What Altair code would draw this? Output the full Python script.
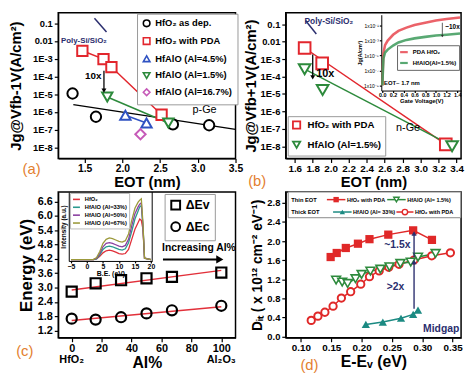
import altair as alt
import pandas as pd

FONT = "Liberation Sans"
ORANGE = "#e3802f"
NAVY = "#2b2e6e"
RED = "#e2262d"
GREEN = "#2d8a3c"
BLUE = "#2f52c2"
PURPLE = "#c65ab8"
TEAL = "#1b8a82"

W1, W2, H = 180, 178, 148

LOG_TICKS = [1e-1, 1e-2, 1e-3, 1e-4, 1e-5, 1e-6, 1e-7, 1e-8]
LOG_EXPR = ("datum.value > 0.05 ? '0.1' : (datum.value > 0.005 ? '0.01' : "
            "'1E' + round(log(datum.value) / LN10))")

# ---------------- panel (a) data ----------------
a_series = ["HfO₂ as dep.", "HfO₂ with PDA", "HfAlO (Al=4.5%)", "HfAlO (Al=1.5%)", "HfAlO (Al=16.7%)"]
a_colors = ["black", RED, BLUE, GREEN, PURPLE]
a_shapes = ["circle", "square", "triangle-up", "triangle-down", "diamond"]
a_asdep_eot = [1.34, 1.65, 2.67, 3.15]
a_asdep_jg = [1.1e-5, 5.4e-7, 2.0e-7, 1.8e-7]
a_pda_eot = [1.47, 1.75, 1.855, 2.52]
a_pda_jg = [2.8e-3, 9.5e-4, 3.4e-4, 7.0e-7]
a_al45_eot = [2.04, 2.32]
a_al45_jg = [6.6e-7, 2.4e-7]
a_al15_eot = [1.80, 2.61]
a_al15_jg = [7.0e-6, 2.4e-7]
a_al167_eot = [2.24]
a_al167_jg = [5.6e-8]
a_fit_eot = [1.35, 3.5]
a_fit_jg = [2.6e-6, 1.05e-7]
a_poly_eot = [1.63, 1.79]
a_poly_jg = [0.19, 0.032]
a_arrow_eot = [1.756]
a_arrow_from = [2.1e-4]
a_arrow_to = [1.6e-5]

# ---------------- panel (b) data ----------------
b_series = ["HfO₂ with PDA", "HfAlO (Al=1.5%)"]
b_pda_eot = [1.71, 1.905, 3.28]
b_pda_jg = [4.3e-3, 5.7e-4, 1.3e-8]
b_al_eot = [1.71, 1.91, 3.35]
b_al_jg = [2.6e-4, 1.7e-5, 1.0e-8]
b_pda_fit_eot = [1.71, 3.28]
b_pda_fit_jg = [4.3e-3, 1.3e-8]
b_al_fit_eot = [1.70, 3.33]
b_al_fit_jg = [2.8e-4, 1.2e-8]
b_poly_eot = [1.72, 1.84]
b_poly_jg = [0.16, 0.027]
b_arrow_eot = [1.80]
b_arrow_from = [1.8e-3]
b_arrow_to = [9.0e-5]
# inset of (b): Jg vs gate voltage
bi_curves = ["PDA HfO₂", "HfAlO(Al=1.5%)"]
bi_v = [0.0, 0.01, 0.02, 0.05, 0.1, 0.2, 0.3, 0.45, 0.6, 0.8, 1.0, 1.2, 1.45]
bi_pda = [1e-9, 3e-7, 2e-5, 2.5e-4, 1e-3, 6e-3, 2e-2, 5.6e-2, 0.126, 0.25, 0.5, 0.8, 1.26]
bi_al = [1e-9, 1e-7, 4e-6, 2.5e-5, 6.3e-5, 2.2e-4, 5.6e-4, 1.26e-3, 2e-3, 3.2e-3, 5e-3, 6.3e-3, 8.9e-3]

# ---------------- panel (c) data ----------------
c_al = [0, 16, 33, 50, 67, 100]
c_dev = [2.83, 3.18, 3.31, 3.39, 3.45, 3.63]
c_dec = [1.70, 1.66, 1.76, 1.92, 2.05, 2.24]
c_fit_x = [0, 100]
c_fit_dev = [2.90, 3.72]
c_fit_dec = [1.62, 2.20]
c_bands = ["ΔEv", "ΔEc"]
# inset of (c): XPS loss spectra
ci_curves = ["HfO₂", "HfAlO (Al=33%)", "HfAlO (Al=50%)", "HfAlO (Al=67%)"]
ci_colors = ["#e0303a", "#2a9a8e", "#8a3fa0", "#9c9a3c"]
ci_be = [-5, 0, 2, 3, 4, 5, 6, 7, 8, 9, 10, 11, 12, 13, 14, 15, 16, 16.5, 17, 17.5, 18, 20]
ci_hfo2 = [0, 0, 0, 0.01, 0.05, 0.10, 0.13, 0.14, 0.13, 0.11, 0.09, 0.08, 0.09, 0.15, 0.30, 0.45, 0.55, 0.60, 0.58, 0.45, 0.02, 0]
ci_al33 = [0, 0, 0, 0.01, 0.07, 0.15, 0.19, 0.20, 0.19, 0.17, 0.15, 0.14, 0.16, 0.25, 0.42, 0.60, 0.72, 0.78, 0.80, 0.50, 0.02, 0]
ci_al50 = [0, 0, 0, 0.02, 0.09, 0.19, 0.24, 0.25, 0.24, 0.22, 0.20, 0.19, 0.21, 0.30, 0.50, 0.68, 0.78, 0.82, 0.84, 0.50, 0.02, 0]
ci_al67 = [0, 0, 0, 0.03, 0.12, 0.24, 0.30, 0.32, 0.31, 0.29, 0.27, 0.26, 0.28, 0.38, 0.58, 0.76, 0.85, 0.88, 0.90, 0.55, 0.02, 0]

# ---------------- panel (d) data ----------------
d_thin_pda_x = [0.149, 0.159, 0.174, 0.194, 0.213, 0.244, 0.285, 0.316]
d_thin_pda_y = [1.665, 1.75, 1.855, 1.945, 2.04, 2.135, 2.225, 2.025]
d_thin_al_x = [0.158, 0.168, 0.177, 0.19, 0.20, 0.2145, 0.231, 0.246, 0.264, 0.281, 0.293, 0.322]
d_thin_al_y = [1.18, 1.14, 1.11, 1.21, 1.30, 1.37, 1.41, 1.46, 1.53, 1.56, 1.665, 1.74]
d_thick_al_x = [0.207, 0.235, 0.265, 0.285, 0.293]
d_thick_al_y = [0.25, 0.30, 0.38, 0.46, 0.55]
d_thick_pda_x = [0.117, 0.128, 0.1395, 0.153, 0.1667, 0.182, 0.1986, 0.213, 0.229, 0.2448, 0.2617, 0.2863, 0.3156, 0.3464]
d_thick_pda_y = [0.335, 0.424, 0.506, 0.633, 0.804, 0.937, 1.095, 1.253, 1.373, 1.449, 1.513, 1.601, 1.69, 1.753]
d_arrow_x = [0.2865, 0.2865]
d_arrow_from = [0.58, 1.66]
d_arrow_to = [1.56, 2.16]
d_note_text = ["~1.5x", ">2x"]
d_note_x = [0.259, 0.256]
d_note_y = [1.91, 1.03]
# legend of (d), in data coordinates
d_leg_box_x = [0.079, 0.3635]
d_leg_box_y = [2.49, 3.03]
d_leg_group_text = ["Thin EOT", "Thick EOT"]
d_leg_group_y = [2.87, 2.61]
d_leg_line_x0 = [0.1428, 0.2422, 0.153, 0.2574]
d_leg_line_x1 = [0.1733, 0.2727, 0.1836, 0.2855]
d_leg_line_y = [2.87, 2.87, 2.61, 2.61]
d_leg_text = ["HfO₂ with PDA", "HfAlO (Al= 1.5%)", "HfAlO (Al= 33%)", "HfO₂ with PDA"]
d_leg_text_x = [0.176, 0.2753, 0.186, 0.288]


# ---------------- helpers ----------------
def xy(xs, ys, **extra):
    d = {"x": list(xs), "y": list(ys)}
    d.update(extra)
    return pd.DataFrame(d)


def series_df(names, xs_list, ys_list, key="series"):
    rows = []
    for n, xs, ys in zip(names, xs_list, ys_list):
        for x, y in zip(xs, ys):
            rows.append({"x": x, "y": y, key: n})
    return pd.DataFrame(rows)


def line(df, X, Y, color, width=1.5):
    return alt.Chart(df).mark_line(color=color, strokeWidth=width).encode(x=X, y=Y)


def label_text(df, X, Y, **kw):
    base = dict(font=FONT, fontWeight="bold", color="black", fontSize=10)
    base.update(kw)
    return alt.Chart(df).mark_text(**base).encode(x=X, y=Y, text="label:N")


def varrow(xs, y0, y1, X, Y, color, up=False, head=28, width=1.3):
    d = pd.DataFrame({"x": xs, "y": y0, "y2": y1})
    rule = alt.Chart(d).mark_rule(color=color, strokeWidth=width).encode(x=X, y=Y, y2="y2:Q")
    h = pd.DataFrame({"x": xs, "y": y1})
    tip = alt.Chart(h).mark_point(shape="triangle-up" if up else "triangle-down", filled=True,
                                  color=color, size=head, opacity=1).encode(x=X, y=Y)
    return alt.layer(rule, tip)


def panel_label(t, px, py):
    return alt.Chart(pd.DataFrame({"label": [t]})).mark_text(
        font=FONT, fontSize=15, color=ORANGE).encode(x=alt.value(px), y=alt.value(py), text="label:N")


def pts(df, X, Y, color, shape, filled, size, sw=1.8):
    if filled:
        m = alt.Chart(df).mark_point(shape=shape, filled=True, color=color, size=size, opacity=1)
    else:
        m = alt.Chart(df).mark_point(shape=shape, filled=False, color=color, fill="white",
                                     size=size, strokeWidth=sw, opacity=1)
    return m.encode(x=X, y=Y)


def legend(x, y, **kw):
    base = dict(orient="none", legendX=x, legendY=y, title=None, fillColor="white",
                strokeColor="#999", labelFont=FONT, labelFontWeight="bold", labelColor="black",
                labelLimit=300)
    base.update(kw)
    return alt.Legend(**base)


# ---------------- panel (a) ----------------
Xa = alt.X("x:Q", scale=alt.Scale(domain=[1.15, 3.5], nice=False, zero=False),
           axis=alt.Axis(values=[1.5, 2.0, 2.5, 3.0, 3.5], format=".1f", title="EOT (nm)",
                         labelFontSize=10.5, labelPadding=1, titlePadding=1))
Ya = alt.Y("y:Q", scale=alt.Scale(type="log", domain=[2.4e-9, 0.39], nice=False),
           axis=alt.Axis(values=LOG_TICKS, labelExpr=LOG_EXPR, title="Jg@Vfb-1V(A/cm²)",
                         labelFontSize=9.5, titlePadding=9))
df_a = series_df(a_series,
                 [a_asdep_eot, a_pda_eot, a_al45_eot, a_al15_eot, a_al167_eot],
                 [a_asdep_jg, a_pda_jg, a_al45_jg, a_al15_jg, a_al167_jg])
leg_a = legend(80, 1, padding=5, rowPadding=4, labelFontSize=9.5, symbolSize=45, symbolStrokeWidth=1.6)
pts_a = alt.Chart(df_a).mark_point(filled=False, fill="white", size=110, strokeWidth=2, opacity=1).encode(
    x=Xa, y=Ya,
    color=alt.Color("series:N", scale=alt.Scale(domain=a_series, range=a_colors), legend=leg_a),
    shape=alt.Shape("series:N", scale=alt.Scale(domain=a_series, range=a_shapes), legend=leg_a))
pa = alt.layer(
    line(xy(a_fit_eot, a_fit_jg), Xa, Ya, "black"),
    line(xy(a_pda_eot, a_pda_jg), Xa, Ya, RED),
    line(xy(a_al15_eot, a_al15_jg), Xa, Ya, GREEN),
    line(xy(a_al45_eot, a_al45_jg), Xa, Ya, BLUE),
    line(xy(a_poly_eot, a_poly_jg), Xa, Ya, NAVY),
    pts_a,
    label_text(xy([1.49], [0.0095], label=["Poly-Si/SiO₂"]), Xa, Ya, color=NAVY, fontSize=8),
    label_text(xy([1.615], [1.0e-4], label=["10x"]), Xa, Ya, fontSize=10),
    label_text(xy([3.09], [1.26e-6], label=["p-Ge"]), Xa, Ya, fontSize=11, fontWeight="normal"),
    varrow(a_arrow_eot, a_arrow_from, a_arrow_to, Xa, Ya, "black", head=25),
    panel_label("(a)", -27, 159),
).properties(width=W1, height=H)

# ---------------- panel (b) ----------------
Xb = alt.X("x:Q", scale=alt.Scale(domain=[1.5, 3.45], nice=False, zero=False),
           axis=alt.Axis(values=[1.6, 1.8, 2.0, 2.2, 2.4, 2.6, 2.8, 3.0, 3.2, 3.4], format=".1f",
                         title="EOT (nm)", labelFontSize=10, labelPadding=1, titlePadding=1))
Yb = alt.Y("y:Q", scale=alt.Scale(type="log", domain=[2e-9, 0.45], nice=False),
           axis=alt.Axis(values=LOG_TICKS, labelExpr=LOG_EXPR, title="Jg@Vfb+1V(A/cm²)",
                         labelFontSize=9.5, titlePadding=2))
df_b = series_df(b_series, [b_pda_eot, b_al_eot], [b_pda_jg, b_al_jg])
leg_b = legend(2, 105, padding=4, rowPadding=5, labelFontSize=9.8, symbolSize=55, symbolStrokeWidth=1.8,
               symbolOffset=0, labelOffset=6)
pts_b = alt.Chart(df_b).mark_point(filled=False, fill="white", size=140, strokeWidth=2, opacity=1).encode(
    x=Xb, y=Yb,
    color=alt.Color("series:N", scale=alt.Scale(domain=b_series, range=[RED, GREEN]), legend=leg_b),
    shape=alt.Shape("series:N", scale=alt.Scale(domain=b_series, range=["square", "triangle-down"]),
                    legend=leg_b))
pb_main = alt.layer(
    line(xy(b_pda_fit_eot, b_pda_fit_jg), Xb, Yb, RED),
    line(xy(b_al_fit_eot, b_al_fit_jg), Xb, Yb, GREEN),
    line(xy(b_poly_eot, b_poly_jg), Xb, Yb, NAVY),
    pts_b,
    label_text(xy([1.98], [0.15], label=["Poly-Si/SiO₂"]), Xb, Yb, color=NAVY, fontSize=8.5),
    label_text(xy([1.84], [1.35e-4], label=["10x"]), Xb, Yb, fontSize=11, align="left"),
    label_text(xy([2.86], [1.07e-7], label=["n-Ge"]), Xb, Yb, fontSize=11, fontWeight="normal"),
    varrow(b_arrow_eot, b_arrow_from, b_arrow_to, Xb, Yb, "black", head=25),
    panel_label("(b)", -29, 171),
)
XIb = alt.X("x:Q", scale=alt.Scale(domain=[-0.02, 1.47], range=[97, W2], nice=False, zero=False),
            axis=alt.Axis(orient="bottom", offset=-(H - 79), values=[0, 0.2, 0.4, 0.6, 0.8, 1.0, 1.2, 1.4],
                          format=".1f", labelFontSize=5.5, labelPadding=0, tickSize=2,
                          title="Gate Voltage(V)", titleFontSize=6, titlePadding=0, domainWidth=1))
YIb = alt.Y("y:Q", scale=alt.Scale(type="log", domain=[2e-10, 3.0], range=[79, 2], nice=False),
            axis=alt.Axis(orient="left", offset=-97, values=[1e-1, 1e-3, 1e-5, 1e-7, 1e-9],
                          labelExpr="'1x10⁻' + ['⁰','¹','²','³','⁴','⁵','⁶','⁷','⁸','⁹'][-round(log(datum.value) / LN10)]",
                          labelFontSize=5, labelFontWeight="normal", labelPadding=1, tickSize=2,
                          title="Jg(A/cm²)", titleFontSize=5.5, titlePadding=1, domainWidth=1))
df_bi = series_df(bi_curves, [bi_v, bi_v], [bi_pda, bi_al], key="curve")
leg_bi = legend(113, 33, padding=2, rowPadding=1, labelFontSize=6, symbolStrokeWidth=2.2,
                symbolSize=60, strokeColor="#666")
pb_inset = alt.layer(
    alt.Chart(df_bi).mark_line(strokeWidth=2.6, opacity=0.85).encode(
        x=XIb, y=YIb,
        color=alt.Color("curve:N", scale=alt.Scale(domain=bi_curves, range=["#e8464f", "#3c9a5a"]),
                        legend=leg_bi)),
    label_text(xy([0.03], [2.2e-9], label=["EOT~ 1.7 nm"]), XIb, YIb, fontSize=6, align="left"),
    label_text(xy([1.31], [7e-2], label=["~10x"]), XIb, YIb, fontSize=6.5),
    varrow([1.12], [0.25], [4e-3], XIb, YIb, "#333", head=8, width=0.8),
)
pb = alt.layer(pb_main, pb_inset).resolve_scale(
    x="independent", y="independent", color="independent", shape="independent"
).properties(width=W2, height=H)

# ---------------- panel (c) ----------------
Xc = alt.X("x:Q", scale=alt.Scale(domain=[-9, 109.5], nice=False, zero=False),
           axis=alt.Axis(values=[0, 20, 40, 60, 80, 100], title="Al%", labelFontSize=11,
                         titleFontSize=16, labelPadding=1, titlePadding=1))
Yc = alt.Y("y:Q", scale=alt.Scale(domain=[0.9, 7.0], nice=False, zero=False),
           axis=alt.Axis(values=[1.2, 1.8, 2.4, 3.0, 3.6, 4.2, 4.8, 5.4, 6.0, 6.6], format=".1f",
                         title="Energy (eV)", labelFontSize=11, titleFontSize=17, titlePadding=2))
df_c = series_df(c_bands, [c_al, c_al], [c_dev, c_dec], key="band")
leg_c = legend(108, 2, padding=5, rowPadding=4, labelFontSize=12.5, symbolSize=80, symbolStrokeWidth=2,
               symbolStrokeColor="black", symbolFillColor="white")
pc_main = alt.layer(
    line(xy(c_fit_x, c_fit_dev), Xc, Yc, "#e2303a"),
    line(xy(c_fit_x, c_fit_dec), Xc, Yc, "#e2303a"),
    alt.Chart(df_c).mark_point(filled=False, color="black", size=105, strokeWidth=2.2, opacity=1).encode(
        x=Xc, y=Yc,
        shape=alt.Shape("band:N", scale=alt.Scale(domain=c_bands, range=["square", "circle"]), legend=leg_c)),
    label_text(xy([85], [4.67], label=["Increasing Al%"]), Xc, Yc, fontSize=10.5),
    alt.Chart(pd.DataFrame({"x": [61], "x2": [99], "y": [4.18]})).mark_rule(
        color="black", strokeWidth=2).encode(x=Xc, x2="x2:Q", y=Yc),
    pts(xy([99], [4.18]), Xc, Yc, "black", "triangle-right", True, 70),
    alt.Chart(pd.DataFrame({"x": [0, 100], "label": ["HfO₂", "Al₂O₃"]})).mark_text(
        font=FONT, fontWeight="bold", fontSize=11, color="black").encode(
        x=Xc, y=alt.value(H + 23), text="label:N"),
    panel_label("(c)", -34, 161),
)
XIc = alt.X("x:Q", scale=alt.Scale(domain=[-5.7, 20.4], range=[10.7, 95.4], nice=False, zero=False),
            axis=alt.Axis(orient="bottom", offset=-(H - 70), values=[-5, 0, 5, 10, 15, 20],
                          labelFontSize=7, labelPadding=0, tickSize=2, title="B.E. (eV)",
                          titleFontSize=7, titlePadding=0, domainWidth=1))
YIc = alt.Y("y:Q", scale=alt.Scale(domain=[-0.02, 1.0], range=[70, 0], nice=False, zero=False),
            axis=alt.Axis(orient="left", offset=-10.7, labels=False, ticks=False,
                          title="Intensity (a.u.)", titleFontSize=6.5, titlePadding=2, domainWidth=1))
df_ci = series_df(ci_curves, [ci_be] * 4, [ci_hfo2, ci_al33, ci_al50, ci_al67], key="curve")
leg_ci = legend(12, 1, padding=2, rowPadding=0, labelFontSize=5.8, symbolStrokeWidth=1.6,
                symbolSize=50, strokeColor="#bbb")
pc_inset = alt.layer(
    alt.Chart(df_ci).mark_line(strokeWidth=1.3).encode(
        x=XIc, y=YIc,
        color=alt.Color("curve:N", scale=alt.Scale(domain=ci_curves, range=ci_colors), legend=leg_ci)),
    alt.Chart(pd.DataFrame({"x": [20.4], "y": [-0.02], "y2": [1.0]})).mark_rule(
        color="black", strokeWidth=1).encode(x=XIc, y=YIc, y2="y2:Q"),
)
pc = alt.layer(pc_main, pc_inset).resolve_scale(
    x="independent", y="independent", color="independent", shape="independent"
).properties(width=W1, height=H)

# ---------------- panel (d) ----------------
Xd = alt.X("x:Q", scale=alt.Scale(domain=[0.075, 0.364], nice=False, zero=False),
           axis=alt.Axis(values=[0.10, 0.15, 0.20, 0.25, 0.30, 0.35], format=".2f", title="E-Eᵥ (eV)",
                         labelFontSize=10, labelPadding=1, titlePadding=1, titleFontSize=16))
Yd = alt.Y("y:Q", scale=alt.Scale(domain=[-0.03, 3.03], nice=False, zero=False),
           axis=alt.Axis(values=[0.0, 0.4, 0.8, 1.2, 1.6, 2.0, 2.4, 2.8], format=".1f",
                         title="Dᵢₜ ( x 10¹² cm⁻² eV⁻¹)", labelFontSize=9.5, titleFontSize=14,
                         titlePadding=2))
PDA_RED = "#e02828"
pd_layers = [
    line(xy(d_thick_pda_x, d_thick_pda_y), Xd, Yd, PDA_RED),
    line(xy(d_thin_pda_x, d_thin_pda_y), Xd, Yd, PDA_RED),
    line(xy(d_thin_al_x, d_thin_al_y), Xd, Yd, GREEN),
    line(xy(d_thick_al_x, d_thick_al_y), Xd, Yd, TEAL),
    pts(xy(d_thick_pda_x, d_thick_pda_y), Xd, Yd, PDA_RED, "circle", False, 55, 2),
    pts(xy(d_thin_pda_x, d_thin_pda_y), Xd, Yd, PDA_RED, "square", True, 70),
    pts(xy(d_thin_al_x, d_thin_al_y), Xd, Yd, GREEN, "triangle-down", False, 80, 1.6),
    pts(xy(d_thick_al_x, d_thick_al_y), Xd, Yd, TEAL, "triangle-up", True, 70),
    varrow(d_arrow_x, d_arrow_from, d_arrow_to, Xd, Yd, NAVY, up=True, head=28, width=1.4),
    label_text(xy(d_note_x, d_note_y, label=d_note_text), Xd, Yd, color=NAVY, fontSize=10.5),
    label_text(xy([0.361], [0.16], label=["Midgap"]), Xd, Yd, color=NAVY, fontSize=10.5, align="right"),
    # legend box
    alt.Chart(pd.DataFrame({"x": [d_leg_box_x[0]], "x2": [d_leg_box_x[1]],
                            "y": [d_leg_box_y[0]], "y2": [d_leg_box_y[1]]})).mark_rect(
        fill="white", stroke="#888", strokeWidth=1).encode(x=Xd, x2="x2:Q", y=Yd, y2="y2:Q"),
    label_text(xy([0.0842, 0.0842], d_leg_group_y, label=d_leg_group_text), Xd, Yd,
               fontSize=5.8, align="left"),
]
leg_colors = [PDA_RED, GREEN, TEAL, PDA_RED]
leg_shapes = ["square", "triangle-down", "triangle-up", "circle"]
leg_filled = [True, False, True, False]
for i in range(4):
    pd_layers.append(alt.Chart(pd.DataFrame({"x": [d_leg_line_x0[i]], "x2": [d_leg_line_x1[i]],
                                             "y": [d_leg_line_y[i]]})).mark_rule(
        color=leg_colors[i], strokeWidth=1.5).encode(x=Xd, x2="x2:Q", y=Yd))
    pd_layers.append(pts(xy([(d_leg_line_x0[i] + d_leg_line_x1[i]) / 2], [d_leg_line_y[i]]), Xd, Yd,
                         leg_colors[i], leg_shapes[i], leg_filled[i], 30, 1.4))
pd_layers.append(label_text(xy(d_leg_text_x, d_leg_line_y, label=d_leg_text), Xd, Yd,
                            fontSize=5.6, align="left"))
pd_layers.append(panel_label("(d)", 24, 176))
pdn = alt.layer(*pd_layers).properties(width=W2, height=H)

# ---------------- assemble ----------------
chart = alt.concat(
    pa, pb, pc, pdn, columns=2, spacing={"row": 34, "column": 51}, bounds="flush", padding=0
).resolve_scale(
    x="independent", y="independent", color="independent", shape="independent"
).configure_view(
    stroke="black", strokeWidth=1.5
).configure_axis(
    labelFont=FONT, labelFontWeight="bold", labelFontSize=10, labelColor="black",
    titleFont=FONT, titleFontWeight="bold", titleFontSize=15, titleColor="black",
    domainColor="black", domainWidth=1.2, tickColor="black", tickWidth=1.2, tickSize=4,
    grid=False, labelFlush=False, labelOverlap=False, labelPadding=2, titlePadding=3
)

chart.save("out.html", embed_options={"renderer": "svg", "actions": False})
